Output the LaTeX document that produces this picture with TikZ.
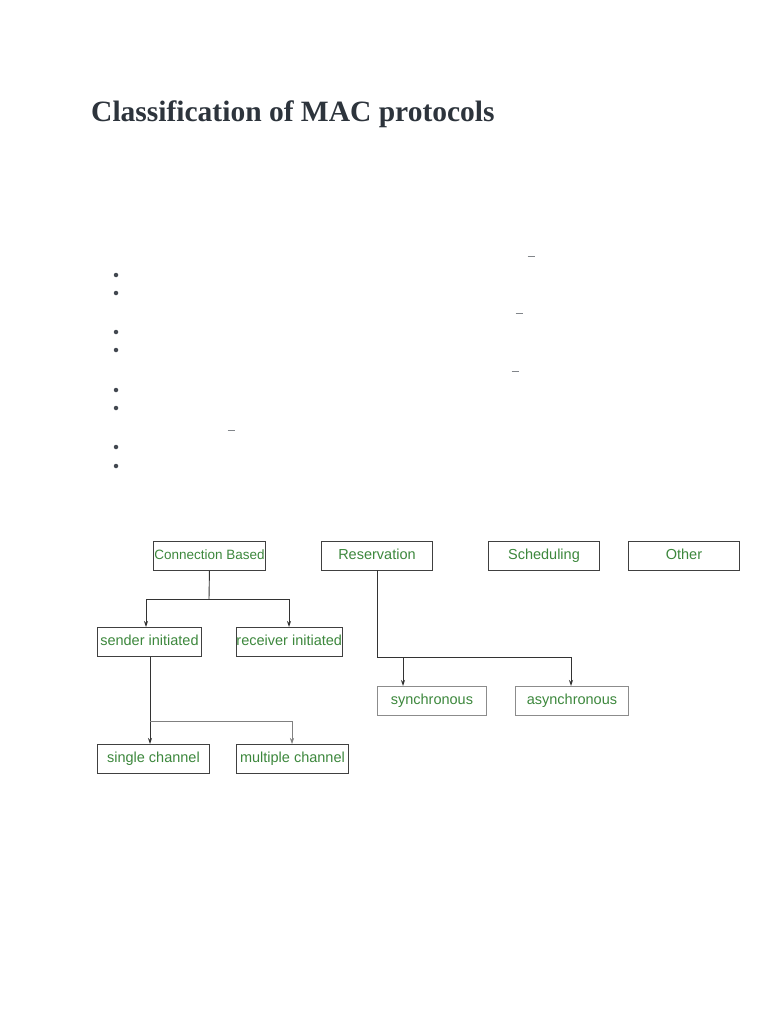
\documentclass[tikz,border=0pt]{standalone}
\usetikzlibrary{arrows.meta}
\usepackage{fontspec}
\setmainfont{Liberation Serif}
\newfontfamily\boxfont{Liberation Sans}
\definecolor{txtgreen}{RGB}{60,135,60}
\definecolor{titlec}{RGB}{45,52,60}
\begin{document}
\begin{tikzpicture}[x=1pt,y=-1pt,
  box/.style={draw=black!75,line width=0.9pt,minimum height=29pt,inner sep=0pt,text height=10.5pt,text depth=3pt,text=txtgreen,font=\boxfont\fontsize{14.5}{16}\selectfont,anchor=north west},
  lbox/.style={box,draw=black!45},
  conn/.style={line width=0.9pt,black!80},
  arr/.style={conn,-{Stealth[length=6pt,width=4pt]}},
  dot/.style={circle,fill=titlec!90,inner sep=0pt,minimum size=4.5pt},
  dsh/.style={draw=titlec!60,line width=0.8pt}]
\useasboundingbox (0,0) rectangle (768,1024);
\node[anchor=base west,inner sep=0pt,text=titlec,font=\bfseries\fontsize{29.5}{32}\selectfont] (title) at (91,122) {Classification of MAC protocols};
\foreach \y [count=\i] in {275,293,332,350,390,408,447,466}{\node[dot] (b\i) at (116,\y) {};}
\foreach \x/\y [count=\i] in {531/256,519/313,515/371,231/430}{\draw[dsh] (\x-3.5,\y) -- (\x+3.5,\y) coordinate (d\i);}
\node[box,minimum width=112pt] (cb) at (153,541) {\fontsize{13.5}{15}\selectfont Connection Based};
\node[box,minimum width=111pt] (res) at (321,541) {Reservation};
\node[box,minimum width=111pt] (sch) at (488,541) {Scheduling};
\node[box,minimum width=111pt] (oth) at (628,541) {Other};
\node[box,minimum width=104pt] (snd) at (97,627) {sender initiated};
\node[box,minimum width=105pt] (rcv) at (236,627) {receiver initiated};
\node[lbox,minimum width=109pt] (syn) at (377,686) {synchronous};
\node[lbox,minimum width=113pt] (asy) at (515,686) {asynchronous};
\node[box,minimum width=112pt] (sgl) at (97,744) {single channel};
\node[box,minimum width=112pt] (mul) at (236,744) {multiple channel};
\coordinate (j1) at (209,599);
\coordinate (a1) at (146,627);
\coordinate (a2) at (289,627);
\draw[conn] (cb.south) -- (j1);
\draw[arr] (j1) -| (a1);
\draw[arr] (j1) -| (a2);
\coordinate (r0) at (377,570);
\coordinate (j2) at (377,657);
\coordinate (a3) at (403,686);
\coordinate (a4) at (571,686);
\draw[conn] (r0) -- (j2);
\draw[arr] (j2) -| (a3);
\draw[arr] (j2) -| (a4);
\coordinate (s0) at (150,657);
\coordinate (j3) at (150,721);
\coordinate (a5) at (150,744);
\coordinate (a6) at (292,744);
\draw[arr] (s0) -- (a5);
\draw[conn,black!50,line width=0.6pt,-{Stealth[length=6pt,width=4pt]}] (j3) -| (a6);
\end{tikzpicture}
\end{document}
